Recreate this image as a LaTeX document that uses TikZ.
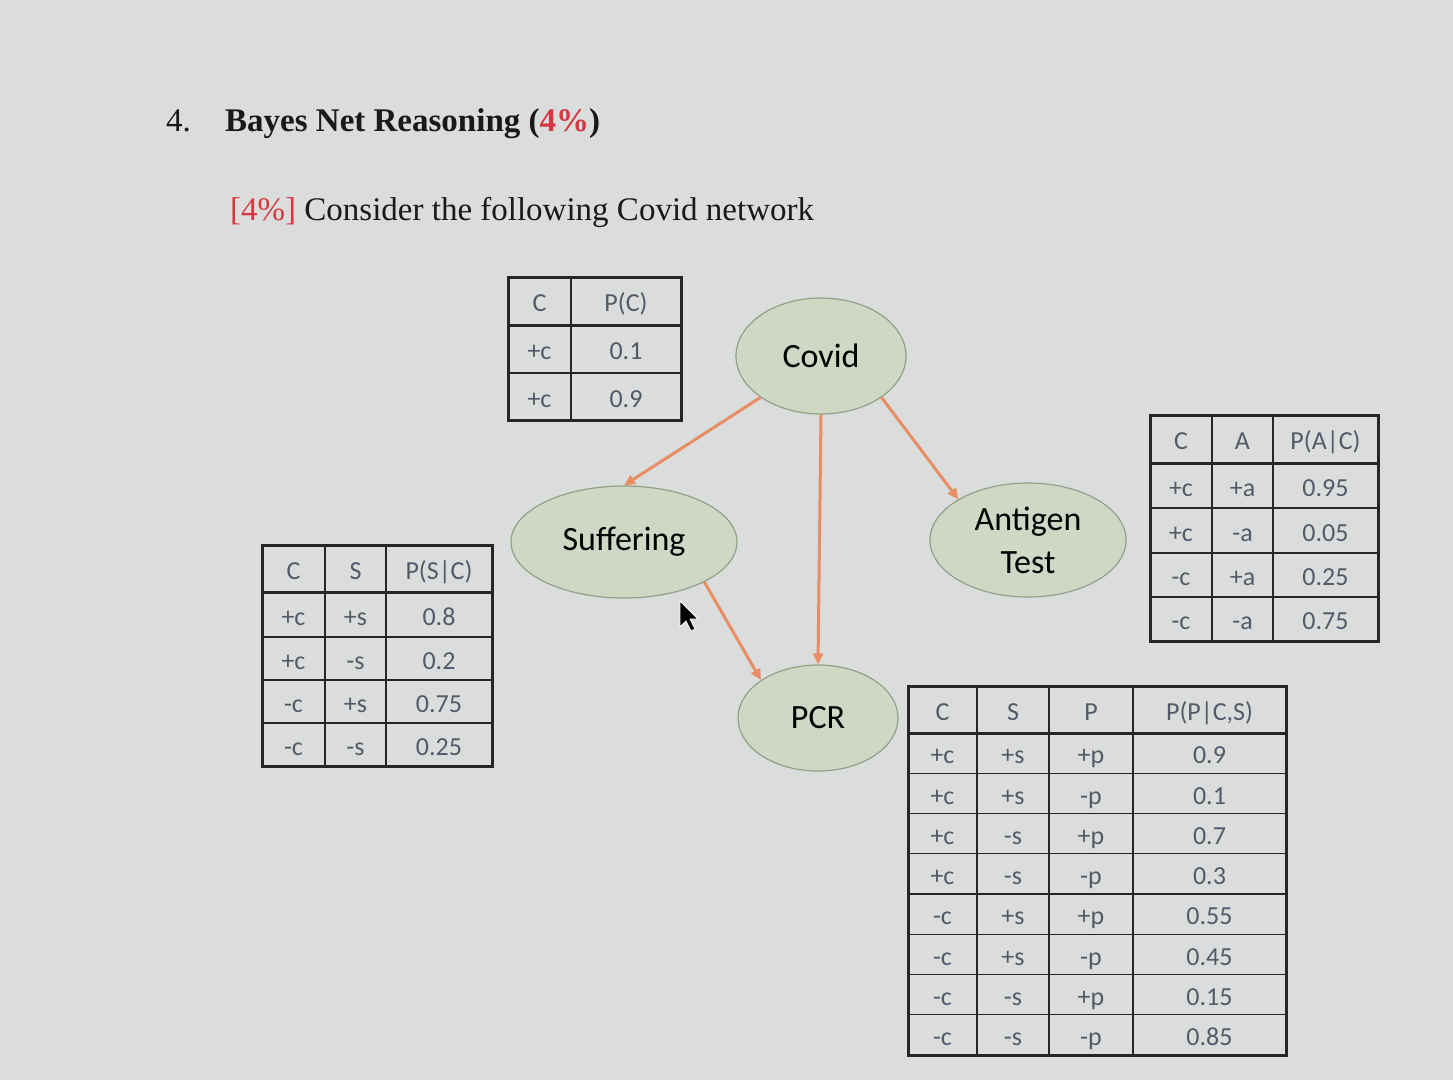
\documentclass[tikz,border=0pt]{standalone}
\usepackage{fontspec}
\setmainfont{Liberation Serif}
\newfontfamily\calibrifont{Carlito}
\usetikzlibrary{shapes.geometric,arrows.meta}
\definecolor{screen}{RGB}{218,221,219}
\definecolor{nodefill}{RGB}{207,216,197}
\definecolor{nodeline}{RGB}{145,160,135}
\definecolor{arrowcol}{RGB}{232,142,100}
\definecolor{tabtext}{RGB}{85,90,105}
\definecolor{pctred}{RGB}{215,55,65}
\tikzset{
  bnode/.style={ellipse, draw=nodeline, fill=nodefill, line width=1.2pt,
    inner sep=0pt, align=center, text=black,
    font=\calibrifont\fontsize{34}{43}\selectfont},
  edge/.style={draw=arrowcol, line width=3pt,
    -{Triangle[length=11pt,width=10pt]}},
  cell/.style={font=\calibrifont\fontsize{26}{30}\selectfont, text=tabtext,
    inner sep=0pt, text height=24pt, text depth=3pt},
  tabthin/.style={line width=1.4pt, draw=black!85},
  tabthick/.style={line width=3pt, draw=black!85},
  heading/.style={anchor=base west, inner sep=0pt, text=black!90,
    font=\fontsize{33}{40}\selectfont},
}
\begin{document}
\begin{tikzpicture}[x=1pt, y=-1pt]
  \fill[screen] (0,0) rectangle (1453,1080);
  % heading
  \node[heading] (num) at (166,131) {4.};
  \node[heading] (title) at (225,131)
    {\bfseries Bayes Net Reasoning (\textcolor{pctred}{4\%})};
  \node[heading] (intro) at (230,220)
    {\textcolor{pctred}{[4\%]} Consider the following Covid network};

  % network
  \node[bnode, minimum width=170pt, minimum height=116pt] (covid) at (821,356) {Covid};
  \node[bnode, minimum width=226pt, minimum height=112pt] (suff) at (624,542) {Suffering};
  \node[bnode, minimum width=196pt, minimum height=114pt] (anti) at (1028,540) {Antigen\\Test};
  \node[bnode, minimum width=160pt, minimum height=106pt] (pcr) at (818,718) {PCR};
  \draw[edge] (covid.south west) -- (suff.north);
  \draw[edge] (covid.south) -- (pcr.north);
  \draw[edge] (covid.south east) -- (anti.north west);
  \draw[edge] (suff.south east) -- (pcr.north west);

  % mouse pointer
  \fill[black, draw=white, line width=0.8pt] (680,601) -- (680,627) -- (686,621)
    -- (691,631) -- (695,629) -- (690,619) -- (698,619) -- cycle;

  % table P(C)
  \draw[tabthin] (571,277) -- (571,420);
  \draw[tabthin] (508,373) -- (681,373);
  \draw[tabthick] (508,325) -- (681,325);
  \draw[tabthick] (508,277) rectangle (681,420);
  \node[cell] (pc-h1) at (539.5,301) {C};
  \node[cell] (pc-h2) at (626,301) {P(C)};
  \foreach \y/\a/\b [count=\i] in {349/+c/0.1, 396.5/+c/0.9} {
    \node[cell] (pc-\i-1) at (539.5,\y) {\a};
    \node[cell] (pc-\i-2) at (626,\y) {\b};
  }

  % table P(S|C)
  \foreach \x in {325,386} \draw[tabthin] (\x,545) -- (\x,766);
  \foreach \y in {637,680,723} \draw[tabthin] (262,\y) -- (492,\y);
  \draw[tabthick] (262,592) -- (492,592);
  \draw[tabthick] (262,545) rectangle (492,766);
  \node[cell] (ps-h1) at (293.5,568.5) {C};
  \node[cell] (ps-h2) at (355.5,568.5) {S};
  \node[cell] (ps-h3) at (439,568.5) {P(S|C)};
  \foreach \y/\a/\b/\p [count=\i] in
      {614.5/+c/+s/0.8, 658.5/+c/-s/0.2, 701.5/-c/+s/0.75, 744.5/-c/-s/0.25} {
    \node[cell] (ps-\i-1) at (293.5,\y) {\a};
    \node[cell] (ps-\i-2) at (355.5,\y) {\b};
    \node[cell] (ps-\i-3) at (439,\y) {\p};
  }

  % table P(A|C)
  \foreach \x in {1212,1273} \draw[tabthin] (\x,415) -- (\x,641);
  \foreach \y in {508,553,597} \draw[tabthin] (1150,\y) -- (1378,\y);
  \draw[tabthick] (1150,463) -- (1378,463);
  \draw[tabthick] (1150,415) rectangle (1378,641);
  \node[cell] (pa-h1) at (1181,439) {C};
  \node[cell] (pa-h2) at (1242.5,439) {A};
  \node[cell] (pa-h3) at (1325.5,439) {P(A|C)};
  \foreach \y/\a/\b/\p [count=\i] in
      {485.5/+c/+a/0.95, 530.5/+c/-a/0.05, 575/-c/+a/0.25, 619/-c/-a/0.75} {
    \node[cell] (pa-\i-1) at (1181,\y) {\a};
    \node[cell] (pa-\i-2) at (1242.5,\y) {\b};
    \node[cell] (pa-\i-3) at (1325.5,\y) {\p};
  }

  % table P(P|C,S)
  \foreach \x in {977,1049,1133} \draw[tabthin] (\x,686) -- (\x,1055);
  \foreach \i in {1,...,7} \draw[tabthin] (908,733+40.25*\i) -- (1286,733+40.25*\i);
  \draw[tabthick] (908,733) -- (1286,733);
  \draw[tabthick] (908,686) rectangle (1286,1055);
  \node[cell] (pp-h1) at (942.5,709.5) {C};
  \node[cell] (pp-h2) at (1013,709.5) {S};
  \node[cell] (pp-h3) at (1091,709.5) {P};
  \node[cell] (pp-h4) at (1209.5,709.5) {P(P|C,S)};
  \foreach \a/\b/\c/\p [count=\i] in
      {+c/+s/+p/0.9, +c/+s/-p/0.1, +c/-s/+p/0.7, +c/-s/-p/0.3,
       -c/+s/+p/0.55, -c/+s/-p/0.45, -c/-s/+p/0.15, -c/-s/-p/0.85} {
    \node[cell] (pp-\i-1) at (942.5,713+40.25*\i) {\a};
    \node[cell] (pp-\i-2) at (1013,713+40.25*\i) {\b};
    \node[cell] (pp-\i-3) at (1091,713+40.25*\i) {\c};
    \node[cell] (pp-\i-4) at (1209.5,713+40.25*\i) {\p};
  }
\end{tikzpicture}
\end{document}
